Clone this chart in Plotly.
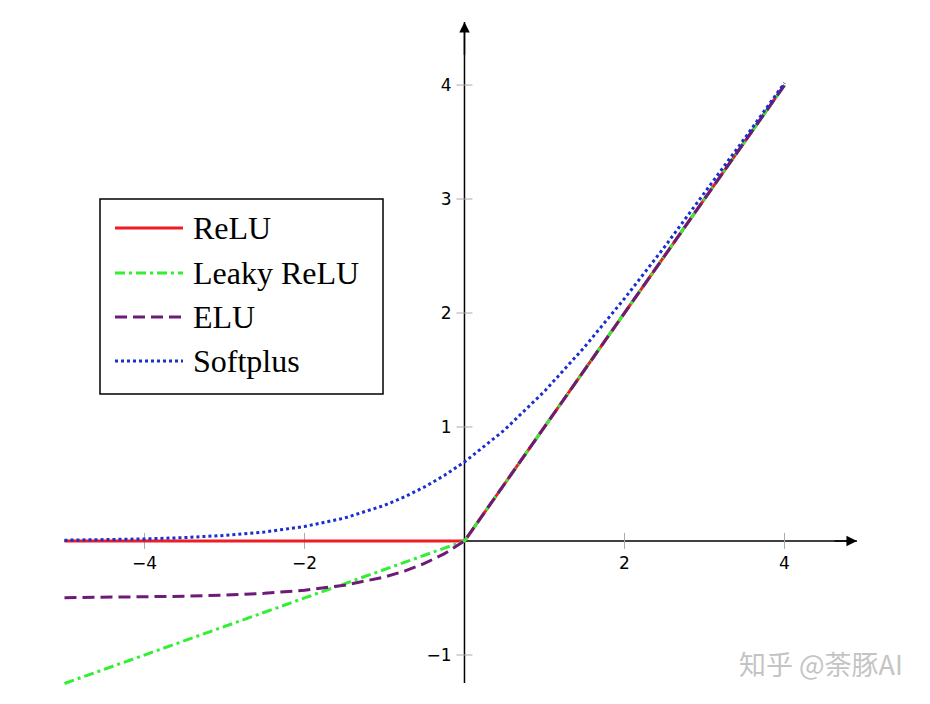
import plotly.graph_objects as go

# ---- data ----
x_vals = [-5, -4.5, -4, -3.5, -3, -2.5, -2, -1.5, -1, -0.75, -0.5, -0.25, 0,
          0.5, 1, 1.5, 2, 2.5, 3, 3.5, 4]
relu = [0, 0, 0, 0, 0, 0, 0, 0, 0, 0, 0, 0, 0,
        0.5, 1, 1.5, 2, 2.5, 3, 3.5, 4]
leaky_relu = [-1.25, -1.125, -1.0, -0.875, -0.75, -0.625, -0.5, -0.375, -0.25,
              -0.1875, -0.125, -0.0625, 0,
              0.5, 1, 1.5, 2, 2.5, 3, 3.5, 4]
elu = [-0.497, -0.494, -0.491, -0.485, -0.475, -0.459, -0.432, -0.388, -0.316,
       -0.264, -0.197, -0.111, 0,
       0.5, 1, 1.5, 2, 2.5, 3, 3.5, 4]
softplus = [0.007, 0.011, 0.018, 0.030, 0.049, 0.079, 0.127, 0.201, 0.313,
            0.387, 0.474, 0.576, 0.693,
            0.974, 1.313, 1.701, 2.127, 2.579, 3.049, 3.530, 4.018]

series_names = ["ReLU", "Leaky ReLU", "ELU", "Softplus"]
series_values = [relu, leaky_relu, elu, softplus]
series_colors = ["#ee1c25", "#33ee33", "#6e1a78", "#1a2fd0"]
series_dash = ["solid", "10px,4px,3px,4px", "12px,6px", "3px,3px"]

x_ticks = [-4, -2, 2, 4]
y_ticks = [-1, 1, 2, 3, 4]

W, H = 930, 704
x_range = [-5.806, 5.819]
y_range = [-1.430, 4.746]
x_axis_span = [-5, 4.906]
y_axis_span = [-1.245, 4.553]

fig = go.Figure()
for name, vals, col, dash in zip(series_names, series_values, series_colors, series_dash):
    fig.add_trace(go.Scatter(x=x_vals, y=vals, mode="lines", name=name,
                             line=dict(color=col, width=3, dash=dash),
                             showlegend=False))

shapes = []
# axis lines (below data)
shapes.append(dict(type="line", xref="x", yref="y", x0=x_axis_span[0], x1=x_axis_span[1],
                   y0=0, y1=0, line=dict(color="black", width=1.5), layer="below"))
shapes.append(dict(type="line", xref="x", yref="y", x0=0, x1=0,
                   y0=y_axis_span[0], y1=y_axis_span[1], line=dict(color="black", width=1.5), layer="below"))
# tick marks crossing the axes
for t in x_ticks:
    shapes.append(dict(type="line", xref="x", yref="y", x0=t, x1=t, ysizemode="pixel",
                       yanchor=0, y0=-8, y1=8, line=dict(color="#aaaaaa", width=1), layer="below"))
for t in y_ticks:
    shapes.append(dict(type="line", xref="x", yref="y", y0=t, y1=t, xsizemode="pixel",
                       xanchor=0, x0=-8, x1=8, line=dict(color="#aaaaaa", width=1), layer="below"))

# legend box
def px(v):
    return v / W

def py(v):
    return 1 - v / H

shapes.append(dict(type="rect", xref="paper", yref="paper", x0=px(100), x1=px(383),
                   y0=py(394), y1=py(199), line=dict(color="black", width=1.5),
                   fillcolor="white", layer="above"))
annotations = []
legend_rows = [228, 273, 317, 361]
for name, col, dash, yr in zip(series_names, series_colors, series_dash, legend_rows):
    shapes.append(dict(type="line", xref="paper", yref="paper", x0=px(115), x1=px(183),
                       y0=py(yr), y1=py(yr), line=dict(color=col, width=3, dash=dash),
                       layer="above"))
    annotations.append(dict(xref="paper", yref="paper", x=px(191), y=py(yr), text=name,
                            showarrow=False, xanchor="left", yanchor="middle",
                            font=dict(family="Liberation Serif", size=32, color="black")))

# arrow heads
annotations.append(dict(x=x_axis_span[1], y=0, ax=x_axis_span[1] - 0.3, ay=0,
                        xref="x", yref="y", axref="x", ayref="y", text="",
                        showarrow=True, arrowhead=2, arrowsize=1.4, arrowwidth=1.5,
                        arrowcolor="black"))
annotations.append(dict(x=0, y=y_axis_span[1], ax=0, ay=y_axis_span[1] - 0.3,
                        xref="x", yref="y", axref="x", ayref="y", text="",
                        showarrow=True, arrowhead=2, arrowsize=1.4, arrowwidth=1.5,
                        arrowcolor="black"))

# watermark
annotations.append(dict(xref="paper", yref="paper", x=px(821), y=py(663), text="知乎 @荼豚AI",
                        showarrow=False, xanchor="center", yanchor="middle",
                        font=dict(family="Noto Sans CJK SC", size=27, color="#c4c4c4")))

tick_font = dict(family="DejaVu Sans", size=17, color="black")
fig.update_layout(
    width=W, height=H,
    margin=dict(l=0, r=0, t=0, b=0),
    plot_bgcolor="white", paper_bgcolor="white",
    shapes=shapes, annotations=annotations,
    xaxis=dict(range=x_range, showgrid=False, zeroline=False, showline=False,
               tickmode="array", tickvals=x_ticks, ticks="", anchor="free",
               position=(H - 541) / H, side="bottom", tickfont=tick_font,
               ticklabelstandoff=10),
    yaxis=dict(range=y_range, showgrid=False, zeroline=False, showline=False,
               tickmode="array", tickvals=y_ticks, ticks="", anchor="free",
               position=464.5 / W, side="left", tickfont=tick_font,
               ticklabelstandoff=13),
)

fig.write_html("out.html")
